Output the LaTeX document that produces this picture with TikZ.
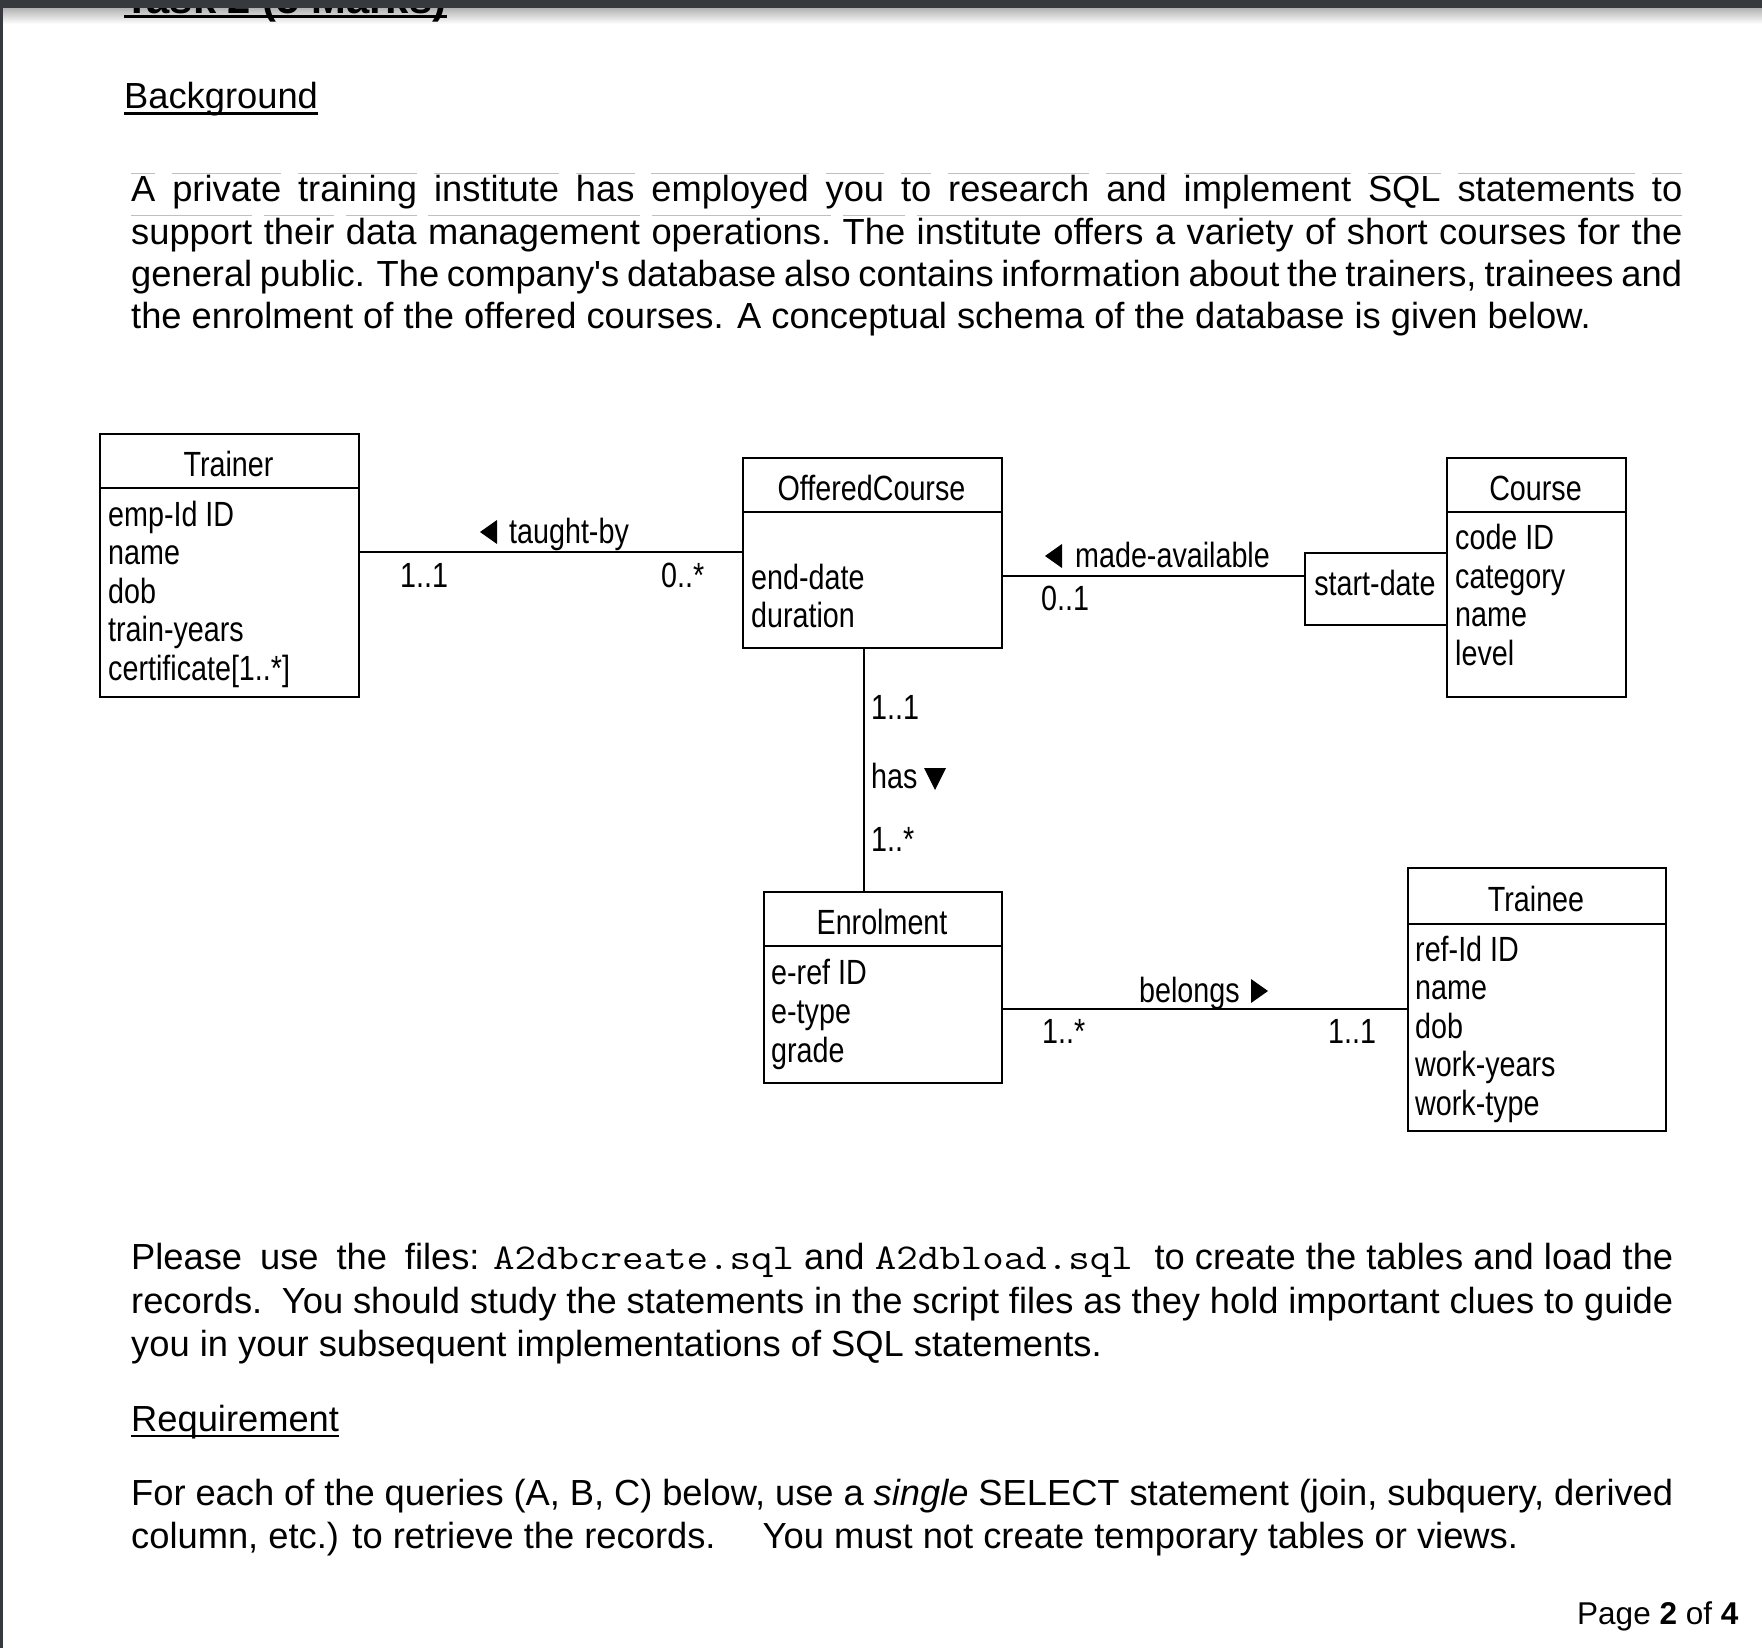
\documentclass[tikz,border=0pt]{standalone}
\usepackage{fontspec}
\setmainfont{Liberation Sans}
\newfontfamily\narrowfont[FakeStretch=0.82]{Liberation Sans}
\usetikzlibrary{calc}
\definecolor{band}{HTML}{36393D}
\definecolor{ovl}{HTML}{A9C5DE}
\newcommand\bodyfont{\fontsize{36.3}{42}\selectfont}
\newcommand\dfont{\narrowfont\fontsize{35}{38}\selectfont}
% word with a faint blue line above it
\newcommand\ow[1]{\setbox0\hbox{#1}\rlap{\textcolor{ovl}{\vrule width\wd0 height 0.79em depth -0.765em}}\box0\relax}
% space with the faint blue line above it
\newcommand\os{\begingroup\color{ovl}\leaders\hrule height 0.79em depth -0.765em\hskip\fontdimen2\font plus\fontdimen3\font minus\fontdimen4\font\endgroup}
% Courier-like file names
\newcommand\fname[1]{\scalebox{1.15}[1]{\ttfamily #1}}
\tikzset{
  cls/.style={draw, line width=1.8pt, inner sep=0pt, anchor=north west},
  sep/.style={line width=1.8pt},
  link/.style={line width=1.8pt},
  dtext/.style={font=\dfont, inner sep=0pt, anchor=base west},
  dtitle/.style={font=\dfont, inner sep=0pt, anchor=base},
  btext/.style={font=\bodyfont, inner sep=0pt, anchor=base west},
}
\begin{document}
\begin{tikzpicture}[x=1pt,y=-1pt]
\useasboundingbox (0,0) rectangle (1762,1648);
\fill[white] (0,0) rectangle (1762,1648);
% page top shadow, cut-off heading, dark band, left edge
\shade[top color=black!30, bottom color=white] (0,8) rectangle (1762,24);
\node[inner sep=0pt, anchor=base west, font=\fontsize{41.8}{46}\selectfont\bfseries] (task) at (124,14) {Task 2 (5 Marks)};
\fill[black] (task.west |- 0,15.5) rectangle (task.east |- 0,18.5);
\fill[band] (0,0) rectangle (1762,8);
\fill[band] (0,0) rectangle (3,1648);

% Background heading
\node[btext] (bg) at (124,109) {Background};
\fill[black] (bg.west |- 0,112.5) rectangle (bg.east |- 0,115);

% Intro paragraph
\node[btext] (p1) at (131,202) {\makebox[1551pt][s]{\ow{A} \ow{private} \ow{training} \ow{institute} \ow{has} \ow{employed} \ow{you} \ow{to} \ow{research} \ow{and} \ow{implement} \ow{SQL} \ow{statements} \ow{to}}};
\node[btext] (p2) at (131,244) {\makebox[1551pt][s]{\ow{support} \ow{their} \ow{data} \ow{management} \ow{operations.} \ow{The} \ow{institute}\os\ow{offers}\os\ow{a}\os\ow{variety}\os\ow{of}\os\ow{short}\os\ow{courses}\os\ow{for}\os\ow{the}}};
\node[btext] (p3) at (131,286) {\spaceskip=0.24em plus 0.2em minus 0.12em\makebox[1551pt][s]{general public. The company\textquotesingle s database also contains information about the trainers, trainees and}};
\node[btext] (p4) at (131,328) {the enrolment of the offered courses. A conceptual schema of the database is given below.};

% ---------- diagram ----------
% Trainer
\node[cls, minimum width=259pt, minimum height=263pt] (trainer) at (99,433) {};
\draw[sep] (trainer.west |- 0,488) -- (trainer.east |- 0,488);
\node[dtitle] (trainerT) at (228.5,476) {Trainer};
\node[dtext] (tr1) at (108,526) {emp-Id ID};
\node[dtext] (tr2) at (108,564.5) {name};
\node[dtext] (tr3) at (108,603) {dob};
\node[dtext] (tr4) at (108,641.5) {train-years};
\node[dtext] (tr5) at (108,680) {certificate[1..*]};

% OfferedCourse
\node[cls, minimum width=259pt, minimum height=190pt] (offered) at (742,457) {};
\draw[sep] (offered.west |- 0,512) -- (offered.east |- 0,512);
\node[dtitle] (offeredT) at (871.5,500) {OfferedCourse};
\node[dtext] (oc1) at (751,589) {end-date};
\node[dtext] (oc2) at (751,627.5) {duration};

% Course
\node[cls, minimum width=179pt, minimum height=239pt] (course) at (1446,457) {};
\draw[sep] (course.west |- 0,512) -- (course.east |- 0,512);
\node[dtitle] (courseT) at (1535.5,500) {Course};
\node[dtext] (co1) at (1455,549) {code ID};
\node[dtext] (co2) at (1455,588) {category};
\node[dtext] (co3) at (1455,626.5) {name};
\node[dtext] (co4) at (1455,665) {level};

% start-date qualifier
\node[cls, minimum width=142pt, minimum height=72pt] (start) at (1304,552) {};
\node[dtitle] (startT) at (1375,595) {start-date};

% Enrolment
\node[cls, minimum width=238pt, minimum height=191pt] (enrol) at (763,891) {};
\draw[sep] (enrol.west |- 0,946) -- (enrol.east |- 0,946);
\node[dtitle] (enrolT) at (882,934) {Enrolment};
\node[dtext] (en1) at (771,984) {e-ref ID};
\node[dtext] (en2) at (771,1023) {e-type};
\node[dtext] (en3) at (771,1062) {grade};

% Trainee
\node[cls, minimum width=258pt, minimum height=263pt] (trainee) at (1407,867) {};
\draw[sep] (trainee.west |- 0,924) -- (trainee.east |- 0,924);
\node[dtitle] (traineeT) at (1536,911) {Trainee};
\node[dtext] (te1) at (1415,961) {ref-Id ID};
\node[dtext] (te2) at (1415,999.5) {name};
\node[dtext] (te3) at (1415,1038) {dob};
\node[dtext] (te4) at (1415,1076.5) {work-years};
\node[dtext] (te5) at (1415,1115) {work-type};

% taught-by
\draw[link] (trainer.east |- 0,552) -- (offered.west |- 0,552);
\fill (480,532) -- (497,520) -- (497,544) -- cycle;
\node[dtext] (tb) at (509,543) {taught-by};
\node[dtext] (tbm1) at (400,587) {1..1};
\node[dtext] (tbm2) at (661,587) {0..*};

% made-available
\draw[link] (offered.east |- 0,576) -- (start.west |- 0,576);
\fill (1045,556) -- (1062,544) -- (1062,568) -- cycle;
\node[dtext] (ma) at (1075,567) {made-available};
\node[dtext] (mam) at (1041,610) {0..1};

% has
\draw[link] (offered.south -| 864,0) -- (enrol.north -| 864,0);
\node[dtext] (hm1) at (871,719) {1..1};
\node[dtext] (has) at (871,788) {has};
\fill (935,790) -- (924,768) -- (946,768) -- cycle;
\node[dtext] (hm2) at (871,851) {1..*};

% belongs
\draw[link] (enrol.east |- 0,1009) -- (trainee.west |- 0,1009);
\node[dtext] (bl) at (1139,1002) {belongs};
\fill (1268,991) -- (1251,979) -- (1251,1003) -- cycle;
\node[dtext] (blm1) at (1042,1043) {1..*};
\node[dtext] (blm2) at (1328,1043) {1..1};

% ---------- lower text ----------
\node[btext] (q1) at (131,1269) {\hbox to 1542pt{Please\hfill use\hfill the\hfill files: \fname{A2dbcreate.sql} and \fname{A2dbload.sql}\hspace{0.6em}to create the tables and load the}};
\node[btext] (q2) at (131,1313) {\makebox[1542pt][s]{records.\ \ You should study the statements in the script files as they hold important clues to guide}};
\node[btext] (q3) at (131,1356) {you in your subsequent implementations of SQL statements.};
\node[btext] (req) at (131,1431) {Requirement};
\fill[black] (req.west |- 0,1434.5) rectangle (req.east |- 0,1437);
\node[btext] (r1) at (131,1505) {\makebox[1542pt][s]{For each of the queries (A, B, C) below, use a \textit{single} SELECT statement (join, subquery, derived}};
\node[btext] (r2) at (131,1548) {column, etc.) to retrieve the records.\hspace{1.3em}You must not create temporary tables or views.};
\node[inner sep=0pt, anchor=base west, font=\fontsize{31.5}{38}\selectfont] (page) at (1577,1624) {Page \textbf{2} of \textbf{4}};
\end{tikzpicture}
\end{document}
